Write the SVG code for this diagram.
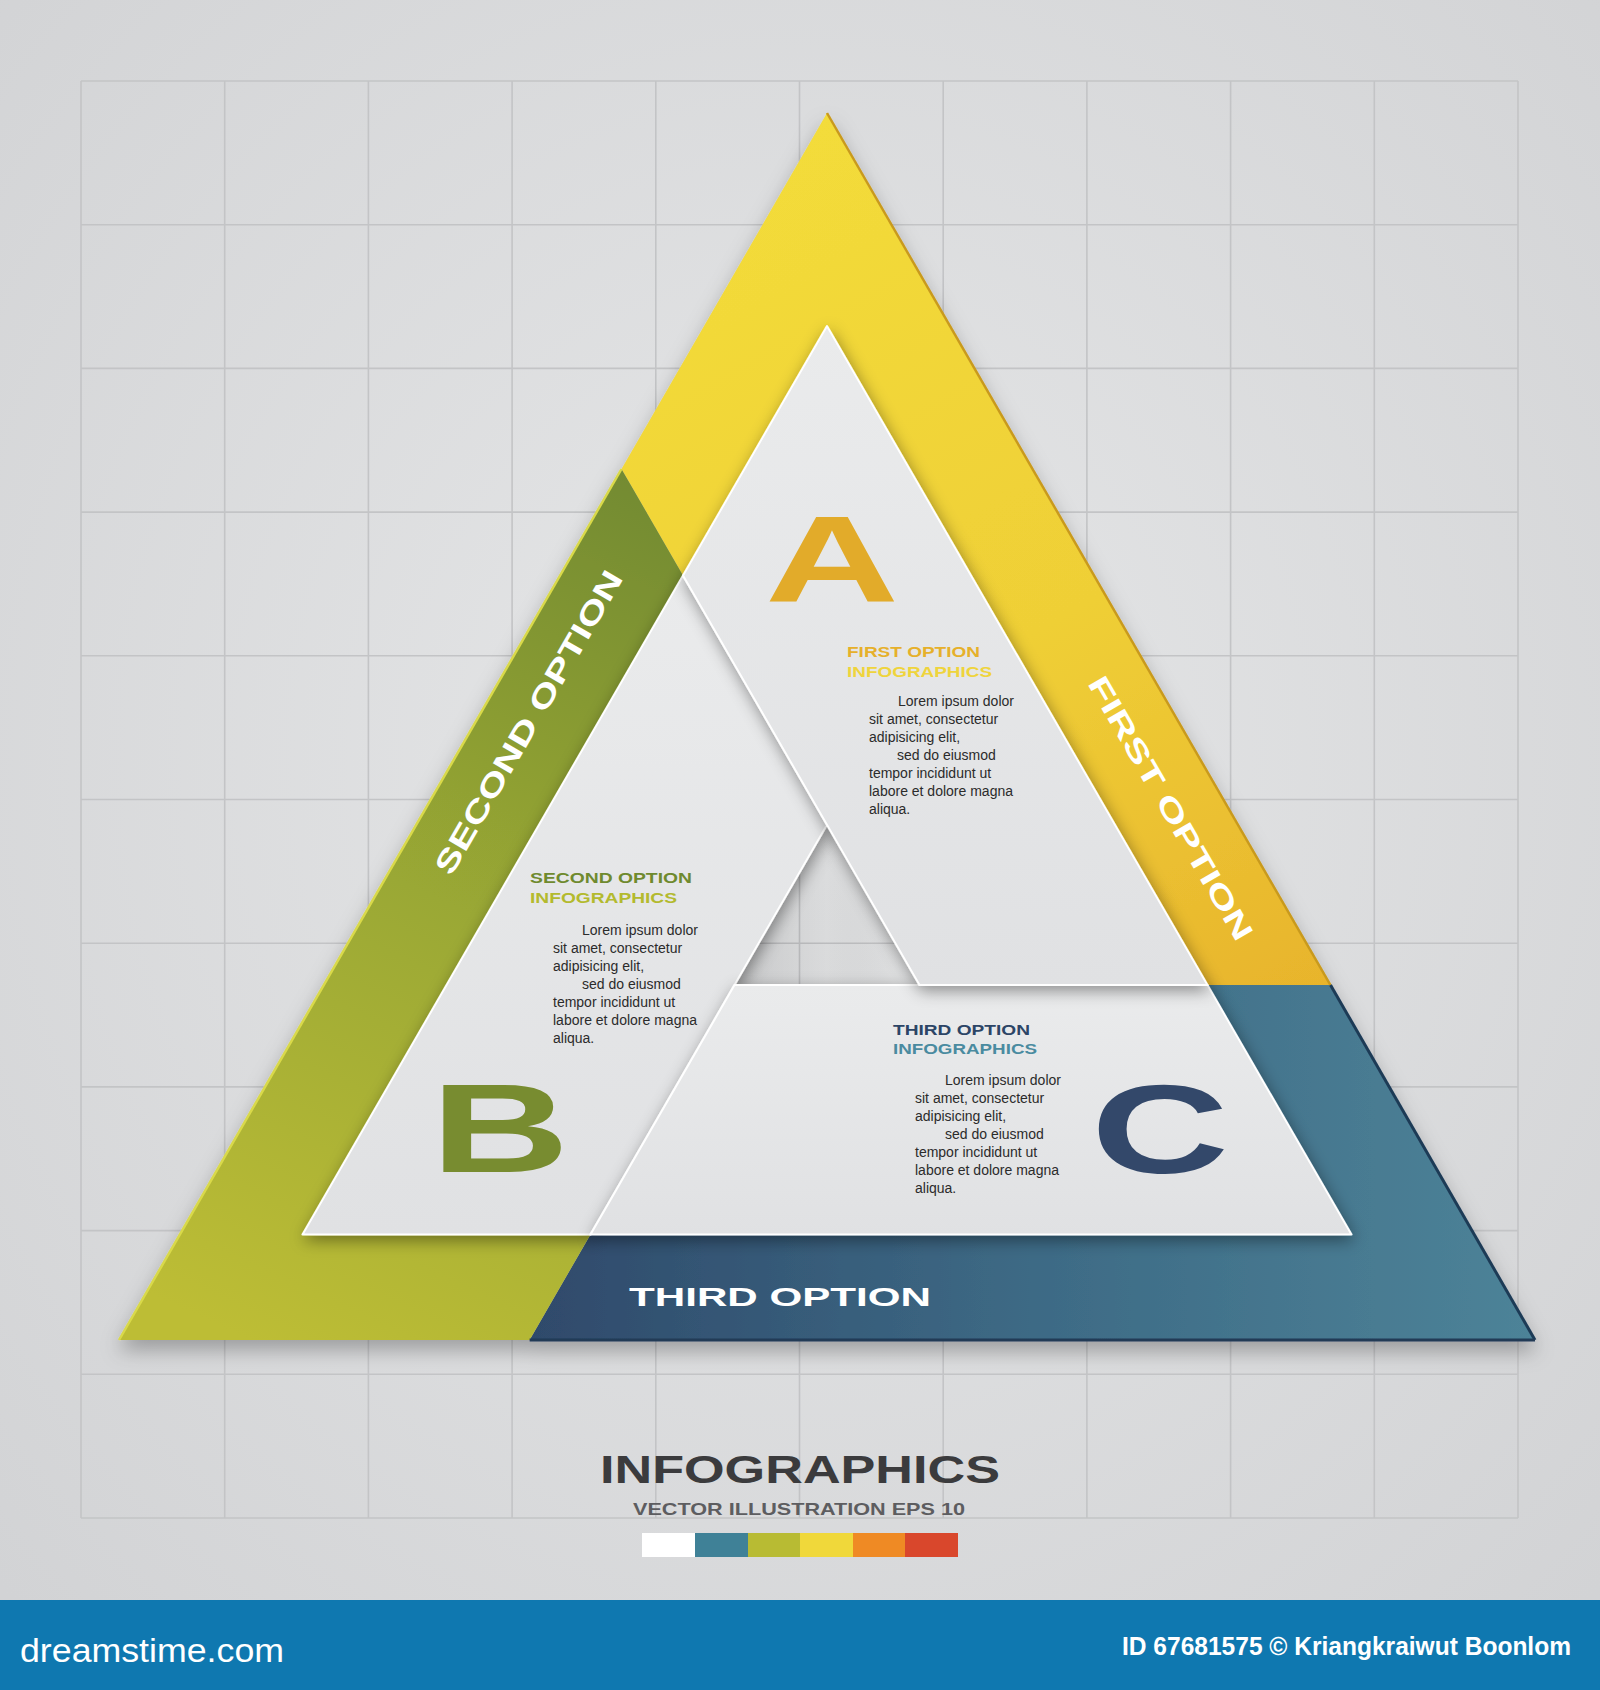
<svg xmlns="http://www.w3.org/2000/svg" width="1600" height="1690" viewBox="0 0 1600 1690">
<defs>
<radialGradient id="bg" cx="50%" cy="45%" r="70%">
<stop offset="0" stop-color="#e6e7e8"/>
<stop offset="1" stop-color="#d2d3d5"/>
</radialGradient>
<linearGradient id="gYellow" gradientUnits="userSpaceOnUse" x1="827" y1="113" x2="1330" y2="985">
<stop offset="0" stop-color="#f3dc3a"/>
<stop offset="0.55" stop-color="#efcf36"/>
<stop offset="1" stop-color="#e8b42c"/>
</linearGradient>
<linearGradient id="gGreen" gradientUnits="userSpaceOnUse" x1="650" y1="470" x2="250" y2="1340">
<stop offset="0" stop-color="#728a30"/>
<stop offset="0.5" stop-color="#9aa834"/>
<stop offset="1" stop-color="#bdbd35"/>
</linearGradient>
<linearGradient id="gBlue" gradientUnits="userSpaceOnUse" x1="530" y1="1300" x2="1534" y2="1300">
<stop offset="0" stop-color="#2f4a6b"/>
<stop offset="0.5" stop-color="#3d6a85"/>
<stop offset="1" stop-color="#4d8398"/>
</linearGradient>
<linearGradient id="gPiece" x1="0" y1="0" x2="0" y2="1">
<stop offset="0" stop-color="#eaebec"/>
<stop offset="1" stop-color="#e0e1e3"/>
</linearGradient>
<linearGradient id="gHole" gradientUnits="userSpaceOnUse" x1="734" y1="900" x2="920" y2="900">
<stop offset="0" stop-color="#000" stop-opacity="0.12"/>
<stop offset="0.5" stop-color="#000" stop-opacity="0.04"/>
<stop offset="1" stop-color="#fff" stop-opacity="0.15"/>
</linearGradient>
<filter id="outerShadow" x="-10%" y="-10%" width="120%" height="125%">
<feDropShadow dx="0" dy="10" stdDeviation="10" flood-color="#000" flood-opacity="0.28"/>
</filter>
<filter id="pieceShadow" x="-15%" y="-15%" width="130%" height="130%">
<feDropShadow dx="2" dy="5" stdDeviation="8" flood-color="#000" flood-opacity="0.4"/>
</filter>
<style>
.grid line{stroke:#c3c4c6;stroke-width:1.6}
.piece{fill:url(#gPiece);stroke:#ffffff;stroke-width:2;stroke-linejoin:round}
.big{font-family:"Liberation Sans",Arial,sans-serif;font-weight:bold}
.band{font-family:"Liberation Sans",Arial,sans-serif;font-weight:bold;fill:#ffffff}
.head{font-family:"Liberation Sans",Arial,sans-serif;font-weight:bold;font-size:14px}
.body{font-family:"Liberation Sans",Arial,sans-serif;font-size:14px;fill:#2b2b2b}
</style>
</defs>

<rect x="0" y="0" width="1600" height="1690" fill="url(#bg)"/>

<g class="grid">
<line x1="81" y1="81" x2="81" y2="1518"/>
<line x1="224.7" y1="81" x2="224.7" y2="1518"/>
<line x1="368.4" y1="81" x2="368.4" y2="1518"/>
<line x1="512.1" y1="81" x2="512.1" y2="1518"/>
<line x1="655.8" y1="81" x2="655.8" y2="1518"/>
<line x1="799.5" y1="81" x2="799.5" y2="1518"/>
<line x1="943.2" y1="81" x2="943.2" y2="1518"/>
<line x1="1086.9" y1="81" x2="1086.9" y2="1518"/>
<line x1="1230.6" y1="81" x2="1230.6" y2="1518"/>
<line x1="1374.3" y1="81" x2="1374.3" y2="1518"/>
<line x1="1518" y1="81" x2="1518" y2="1518"/>
<line x1="81" y1="81" x2="1518" y2="81"/>
<line x1="81" y1="224.7" x2="1518" y2="224.7"/>
<line x1="81" y1="368.4" x2="1518" y2="368.4"/>
<line x1="81" y1="512.1" x2="1518" y2="512.1"/>
<line x1="81" y1="655.8" x2="1518" y2="655.8"/>
<line x1="81" y1="799.5" x2="1518" y2="799.5"/>
<line x1="81" y1="943.2" x2="1518" y2="943.2"/>
<line x1="81" y1="1086.9" x2="1518" y2="1086.9"/>
<line x1="81" y1="1230.6" x2="1518" y2="1230.6"/>
<line x1="81" y1="1374.3" x2="1518" y2="1374.3"/>
<line x1="81" y1="1518" x2="1518" y2="1518"/>
</g>

<g id="frame" filter="url(#outerShadow)">
<polygon id="band-first" points="621.5,469 827,113 1330.5,985.1 1207.5,985.1 827,326 683,575.4" fill="url(#gYellow)"/>
<polygon id="band-third" points="1330.5,985.1 1535,1340 529.6,1340 590.5,1234.5 1351.5,1234.5 1207.5,985.1" fill="url(#gBlue)"/>
<polygon id="band-second" points="529.6,1340 119,1340 621.5,469 683,575.4 302.5,1234.5 590.5,1234.5" fill="url(#gGreen)"/>
<line x1="827" y1="113" x2="1330.5" y2="985.1" stroke="#c99a1f" stroke-width="2.5"/>
<line x1="1330.5" y1="985.1" x2="1535" y2="1340" stroke="#1f3b57" stroke-width="3"/>
<line x1="529.6" y1="1340" x2="1535" y2="1340" stroke="#213a57" stroke-width="3"/>
<line x1="119" y1="1340" x2="621.5" y2="469" stroke="#d9d94a" stroke-width="2.5"/>
</g>

<polygon id="hole" points="827,824.8 734.5,985.1 919.5,985.1" fill="url(#gHole)"/>

<g id="pieces">
<g id="node-b" filter="url(#pieceShadow)">
<polygon class="piece" points="683,575.4 302.5,1234.5 590.5,1234.5 827,824.8"/>
</g>
<g id="node-c" filter="url(#pieceShadow)">
<polygon class="piece" points="734.5,985.1 1207.5,985.1 1351.5,1234.5 590.5,1234.5"/>
</g>
<g id="node-a" filter="url(#pieceShadow)">
<polygon class="piece" points="827,326 1207.5,985.1 919.5,985.1 683,575.4"/>
</g>
</g>

<g id="band-labels">
<text class="band" font-size="29" text-anchor="middle" textLength="300" lengthAdjust="spacingAndGlyphs" transform="translate(1171,808) rotate(60)" x="0" y="10.5">FIRST OPTION</text>
<text class="band" font-size="30" text-anchor="middle" textLength="345" lengthAdjust="spacingAndGlyphs" transform="translate(528,722) rotate(-60)" x="0" y="11">SECOND OPTION</text>
<text class="band" font-size="26" text-anchor="middle" textLength="302" lengthAdjust="spacingAndGlyphs" x="780" y="1306">THIRD OPTION</text>
</g>

<g id="content-a">
<text class="big" font-size="123" fill="#e2ab2a" text-anchor="middle" textLength="134" lengthAdjust="spacingAndGlyphs" x="832" y="602">A</text>
<text class="head" fill="#e6b02a" x="847" y="657" textLength="133" lengthAdjust="spacingAndGlyphs">FIRST OPTION</text>
<text class="head" fill="#efd43c" x="847" y="677" textLength="145" lengthAdjust="spacingAndGlyphs">INFOGRAPHICS</text>
<text class="body" x="898" y="706">Lorem ipsum dolor</text>
<text class="body" x="869" y="724">sit amet, consectetur</text>
<text class="body" x="869" y="742">adipisicing elit,</text>
<text class="body" x="897" y="760">sed do eiusmod</text>
<text class="body" x="869" y="778">tempor incididunt ut</text>
<text class="body" x="869" y="796">labore et dolore magna</text>
<text class="body" x="869" y="814">aliqua.</text>
</g>

<g id="content-b">
<text class="big" font-size="127" fill="#788c30" text-anchor="middle" textLength="139" lengthAdjust="spacingAndGlyphs" x="500" y="1172">B</text>
<text class="head" fill="#6f8a2e" x="530" y="883" textLength="162" lengthAdjust="spacingAndGlyphs">SECOND OPTION</text>
<text class="head" fill="#b3ba2e" x="530" y="903" textLength="147" lengthAdjust="spacingAndGlyphs">INFOGRAPHICS</text>
<text class="body" x="582" y="935">Lorem ipsum dolor</text>
<text class="body" x="553" y="953">sit amet, consectetur</text>
<text class="body" x="553" y="971">adipisicing elit,</text>
<text class="body" x="582" y="989">sed do eiusmod</text>
<text class="body" x="553" y="1007">tempor incididunt ut</text>
<text class="body" x="553" y="1025">labore et dolore magna</text>
<text class="body" x="553" y="1043">aliqua.</text>
</g>

<g id="content-c">
<text class="big" font-size="127" fill="#33486a" text-anchor="middle" textLength="138" lengthAdjust="spacingAndGlyphs" x="1160" y="1173">C</text>
<text class="head" fill="#2c4566" x="893" y="1035" textLength="137" lengthAdjust="spacingAndGlyphs">THIRD OPTION</text>
<text class="head" fill="#4a8ba0" x="893" y="1054" textLength="144" lengthAdjust="spacingAndGlyphs">INFOGRAPHICS</text>
<text class="body" x="945" y="1085">Lorem ipsum dolor</text>
<text class="body" x="915" y="1103">sit amet, consectetur</text>
<text class="body" x="915" y="1121">adipisicing elit,</text>
<text class="body" x="945" y="1139">sed do eiusmod</text>
<text class="body" x="915" y="1157">tempor incididunt ut</text>
<text class="body" x="915" y="1175">labore et dolore magna</text>
<text class="body" x="915" y="1193">aliqua.</text>
</g>

<g id="title">
<text class="big" font-size="39" fill="#3b3b3d" text-anchor="middle" textLength="400" lengthAdjust="spacingAndGlyphs" x="800" y="1483">INFOGRAPHICS</text>
<text class="big" font-size="16.5" fill="#5d5d60" text-anchor="middle" textLength="332" lengthAdjust="spacingAndGlyphs" x="799" y="1515">VECTOR ILLUSTRATION EPS 10</text>
<rect x="642" y="1533" width="53" height="24" fill="#ffffff"/>
<rect x="695" y="1533" width="53" height="24" fill="#3f8197"/>
<rect x="748" y="1533" width="52" height="24" fill="#b8bb33"/>
<rect x="800" y="1533" width="53" height="24" fill="#f0d83a"/>
<rect x="853" y="1533" width="52" height="24" fill="#ef8a24"/>
<rect x="905" y="1533" width="53" height="24" fill="#d9472c"/>
</g>

<g id="footer">
<rect x="0" y="1600" width="1600" height="90" fill="#0f78b0"/>
<text font-family="'Liberation Sans',Arial,sans-serif" font-size="34" fill="#ffffff" x="20" y="1662" textLength="264" lengthAdjust="spacingAndGlyphs">dreamstime.com</text>
<text font-family="'Liberation Sans',Arial,sans-serif" font-weight="bold" font-size="25" fill="#ffffff" x="1571" y="1655" text-anchor="end" textLength="449" lengthAdjust="spacingAndGlyphs">ID 67681575 © Kriangkraiwut Boonlom</text>
</g>
</svg>
